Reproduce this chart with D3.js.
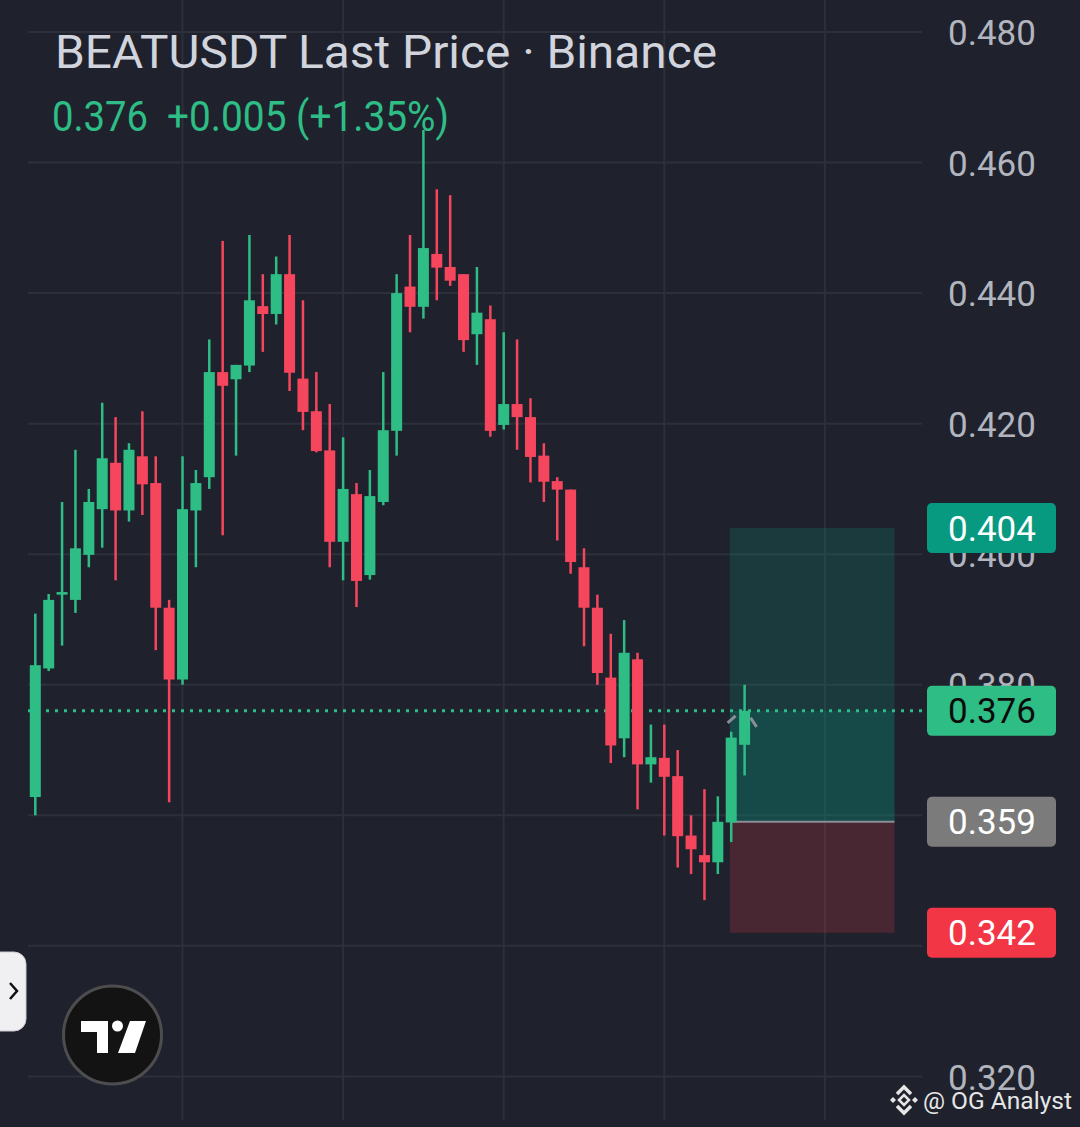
<!DOCTYPE html>
<html>
<head>
<meta charset="utf-8">
<script src="https://cdn.jsdelivr.net/npm/d3@7"></script>
<style>
  html, body { margin: 0; padding: 0; background: #1f222d; }
  svg { display: block; }
  text { font-family: Roboto, "Noto Sans", sans-serif; }
</style>
</head>
<body>
<svg id="chart"></svg>
<script>
// candle data (index = bar number)
const opens  = [0.3628, 0.3825, 0.3938, 0.3930, 0.3999, 0.4069, 0.4140, 0.4067, 0.4150, 0.4109,
                0.3918, 0.3808, 0.4067, 0.4118, 0.4279, 0.4268, 0.4289, 0.4380, 0.4368, 0.4429,
                0.4269, 0.4219, 0.4159, 0.4019, 0.4092, 0.3968, 0.4080, 0.4189, 0.4410, 0.4379,
                0.4460, 0.4440, 0.4429, 0.4337, 0.4360, 0.4198, 0.4230, 0.4210, 0.4151, 0.4112,
                0.4099, 0.3980, 0.3918, 0.3811, 0.3718, 0.3839, 0.3678, 0.3688, 0.3660, 0.3569,
                0.3539, 0.3528, 0.3589, 0.3708];
const highs  = [0.3909, 0.3939, 0.4080, 0.4160, 0.4100, 0.4232, 0.4210, 0.4170, 0.4219, 0.4150,
                0.3930, 0.4150, 0.4129, 0.4329, 0.4480, 0.4290, 0.4489, 0.4429, 0.4456, 0.4489,
                0.4389, 0.4279, 0.4230, 0.4179, 0.4109, 0.4129, 0.4279, 0.4429, 0.4489, 0.4650,
                0.4559, 0.4550, 0.4429, 0.4440, 0.4381, 0.4340, 0.4329, 0.4239, 0.4170, 0.4118,
                0.4099, 0.4009, 0.3938, 0.3878, 0.3899, 0.3849, 0.3739, 0.3739, 0.3700, 0.3600,
                0.3640, 0.3629, 0.3728, 0.3800];
const lows   = [0.3600, 0.3821, 0.3860, 0.3910, 0.3980, 0.4010, 0.3960, 0.4050, 0.4060, 0.3853,
                0.3620, 0.3800, 0.3980, 0.4100, 0.4029, 0.4151, 0.4279, 0.4310, 0.4352, 0.4250,
                0.4190, 0.4156, 0.3980, 0.3960, 0.3919, 0.3961, 0.4075, 0.4151, 0.4340, 0.4361,
                0.4389, 0.4411, 0.4310, 0.4290, 0.4180, 0.4191, 0.4160, 0.4110, 0.4080, 0.4021,
                0.3970, 0.3859, 0.3800, 0.3680, 0.3689, 0.3609, 0.3650, 0.3569, 0.3520, 0.3510,
                0.3470, 0.3510, 0.3559, 0.3661];
const closes = [0.3830, 0.3930, 0.3942, 0.4009, 0.4080, 0.4147, 0.4067, 0.4160, 0.4107, 0.3918,
                0.3808, 0.4069, 0.4109, 0.4279, 0.4258, 0.4290, 0.4389, 0.4368, 0.4429, 0.4278,
                0.4218, 0.4158, 0.4019, 0.4100, 0.3959, 0.4089, 0.4190, 0.4400, 0.4379, 0.4469,
                0.4439, 0.4419, 0.4328, 0.4370, 0.4189, 0.4230, 0.4210, 0.4149, 0.4111, 0.4099,
                0.3988, 0.3918, 0.3818, 0.3707, 0.3849, 0.3678, 0.3689, 0.3659, 0.3568, 0.3548,
                0.3528, 0.3590, 0.3719, 0.3760];

// axis ticks
const priceTicks = [0.32, 0.34, 0.36, 0.38, 0.40, 0.42, 0.44, 0.46, 0.48];
const priceLabels = [0.32, 0.38, 0.40, 0.42, 0.44, 0.46, 0.48];
const timeTicks = [11, 23, 35, 47, 59];   // bar index of each vertical grid line

// long position tool
const position = { start: 51.9, end: 64.2, entry: 0.359, target: 0.404, stop: 0.342 };
const lastPrice = 0.376;

// header texts
const titleText = "BEATUSDT Last Price \u00b7 Binance";
const priceText = "0.376";
const changeText = "+0.005 (+1.35%)";

const W = 1080, H = 1127;
const upColor = "#2ebd85", downColor = "#f6465d";
const plotRight = 922;

const svg = d3.select("#chart").attr("width", W).attr("height", H);

const x = d3.scaleLinear().domain([0, 53]).range([35.3, 744.6]);
const y = d3.scaleLinear().domain([0.32, 0.48]).range([1076.4, 32]);

// grid
svg.append("g").selectAll("line").data(priceTicks).join("line")
  .attr("x1", 28).attr("x2", plotRight)
  .attr("y1", d => y(d)).attr("y2", d => y(d))
  .attr("stroke", "#2c303b").attr("stroke-width", 2);

svg.append("g").selectAll("line").data(timeTicks).join("line")
  .attr("x1", d => x(d)).attr("x2", d => x(d))
  .attr("y1", 0).attr("y2", 1120)
  .attr("stroke", "#2c303b").attr("stroke-width", 2);

// position boxes (behind candles)
const px0 = x(position.start), px1 = x(position.end);
svg.append("rect")
  .attr("x", px0).attr("width", px1 - px0)
  .attr("y", y(position.target)).attr("height", y(position.entry) - y(position.target))
  .attr("fill", "#089981").attr("fill-opacity", 0.2);
svg.append("rect")
  .attr("x", px0).attr("width", px1 - px0)
  .attr("y", y(lastPrice)).attr("height", y(position.entry) - y(lastPrice))
  .attr("fill", "#089981").attr("fill-opacity", 0.17);
svg.append("rect")
  .attr("x", px0).attr("width", px1 - px0)
  .attr("y", y(position.entry)).attr("height", y(position.stop) - y(position.entry))
  .attr("fill", "#f23645").attr("fill-opacity", 0.2);
svg.append("line")
  .attr("x1", px0).attr("x2", px1)
  .attr("y1", y(position.entry)).attr("y2", y(position.entry))
  .attr("stroke", "#8a8d96").attr("stroke-width", 2);

// last price dotted line
svg.append("line")
  .attr("x1", 28).attr("x2", 926)
  .attr("y1", y(lastPrice)).attr("y2", y(lastPrice))
  .attr("stroke", upColor).attr("stroke-width", 3)
  .attr("stroke-dasharray", "3,6");

// candles
const bars = d3.range(opens.length).map(i => ({
  i, o: opens[i], h: highs[i], l: lows[i], c: closes[i]
}));
const bodyW = 11;
const candles = svg.append("g").selectAll("g").data(bars).join("g")
  .attr("fill", d => d.c >= d.o ? upColor : downColor)
  .attr("stroke", "none");
candles.append("rect")
  .attr("x", d => x(d.i) - 1.25).attr("width", 2.5)
  .attr("y", d => y(d.h)).attr("height", d => Math.max(1, y(d.l) - y(d.h)));
candles.append("rect")
  .attr("x", d => x(d.i) - bodyW / 2).attr("width", bodyW)
  .attr("y", d => y(Math.max(d.o, d.c)))
  .attr("height", d => Math.max(2, Math.abs(y(d.o) - y(d.c))));

// little drag marker of the position tool
const mx = x(53), my = y(lastPrice);
svg.append("path")
  .attr("d", `M${mx - 17},${my + 12} L${mx - 9},${my + 5} M${mx + 6},${my + 7} L${mx + 12},${my + 16}`)
  .attr("stroke", "#8a8d96").attr("stroke-width", 3).attr("fill", "none");

// price axis labels
const axis = d3.axisRight(y).tickValues(priceLabels).tickSize(0).tickPadding(0)
  .tickFormat(d3.format(".3f"));
const axisG = svg.append("g").attr("transform", `translate(948,0)`).call(axis);
axisG.select(".domain").remove();
axisG.selectAll("text")
  .attr("fill", "#b2b5be").attr("font-size", 35)
  .attr("font-family", "Roboto, sans-serif")
  .attr("dy", "0.36em");

// price tags on the axis
const tags = [
  { v: position.target, fill: "#089981", text: "#ffffff" },
  { v: lastPrice, fill: upColor, text: "#0b0b0b" },
  { v: position.entry, fill: "#7b7b7b", text: "#ffffff" },
  { v: position.stop, fill: "#f23645", text: "#ffffff" }
];
const tagG = svg.append("g").selectAll("g").data(tags).join("g")
  .attr("transform", d => `translate(927,${y(d.v)})`);
tagG.append("rect")
  .attr("x", 0).attr("y", -25).attr("width", 129).attr("height", 50).attr("rx", 5)
  .attr("fill", d => d.fill);
tagG.append("text")
  .attr("x", 21).attr("y", 0).attr("dy", "0.36em")
  .attr("font-size", 35).attr("fill", d => d.text)
  .text(d => d3.format(".3f")(d.v));

// header
svg.append("text")
  .attr("x", 55).attr("y", 68)
  .attr("font-size", 46).attr("fill", "#d1d4dc")
  .attr("textLength", 662).attr("lengthAdjust", "spacingAndGlyphs")
  .text(titleText);
svg.append("text")
  .attr("x", 52).attr("y", 131)
  .attr("font-size", 42).attr("fill", upColor)
  .attr("textLength", 96).attr("lengthAdjust", "spacingAndGlyphs")
  .text(priceText);
svg.append("text")
  .attr("x", 167).attr("y", 131)
  .attr("font-size", 42).attr("fill", upColor)
  .attr("textLength", 282).attr("lengthAdjust", "spacingAndGlyphs")
  .text(changeText);

// side collapse button
svg.append("rect")
  .attr("x", -12).attr("y", 952).attr("width", 38).attr("height", 79).attr("rx", 12)
  .attr("fill", "#f0f0f3").attr("stroke", "#c9c9cf").attr("stroke-width", 1);
svg.append("path")
  .attr("d", "M10,983 L17,991 L10,999")
  .attr("stroke", "#111").attr("stroke-width", 2.5).attr("fill", "none");

// TradingView logo badge
const logo = svg.append("g");
logo.append("circle").attr("cx", 112.5).attr("cy", 1035).attr("r", 49)
  .attr("fill", "#131313").attr("stroke", "#4d4d4f").attr("stroke-width", 3);
logo.append("path")
  .attr("d", "M81,1021 H108 V1053 H97 V1032 H81 Z M130,1021 H146 L135,1053 H118 Z")
  .attr("fill", "#ffffff");
logo.append("circle").attr("cx", 117.5).attr("cy", 1026).attr("r", 5.5).attr("fill", "#ffffff");

// watermark (Binance mark + handle)
const wm = svg.append("g").attr("fill", "#e6e6e6");
const bx = 904, by = 1100;
[[-11, 0, 3], [11, 0, 3]].forEach(([dx, dy, r]) => {
  wm.append("path")
    .attr("d", `M${bx + dx},${by + dy - r} L${bx + dx + r},${by + dy} L${bx + dx},${by + dy + r} L${bx + dx - r},${by + dy} Z`);
});
wm.append("path")
  .attr("d", `M${bx},${by - 5} L${bx + 5},${by} L${bx},${by + 5} L${bx - 5},${by} Z`)
  .attr("fill", "none").attr("stroke", "#e6e6e6").attr("stroke-width", 2.5);
wm.append("path")
  .attr("d", `M${bx - 7},${by - 6} L${bx},${by - 13} L${bx + 7},${by - 6} M${bx - 7},${by + 6} L${bx},${by + 13} L${bx + 7},${by + 6}`)
  .attr("fill", "none").attr("stroke", "#e6e6e6").attr("stroke-width", 3.5);
wm.append("text")
  .attr("x", 923).attr("y", 1109)
  .attr("font-family", "'Open Sans', 'Noto Sans', sans-serif")
  .attr("font-size", 24)
  .attr("textLength", 149).attr("lengthAdjust", "spacingAndGlyphs")
  .text("@ OG Analyst");
</script>
</body>
</html>
